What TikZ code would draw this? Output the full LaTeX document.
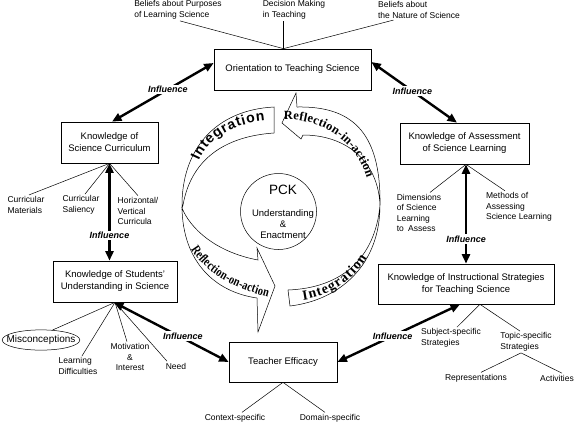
\documentclass[tikz,border=0pt]{standalone}
\usepackage{fontspec}
\setmainfont{Liberation Sans}
\newfontfamily\lsans{Liberation Sans}
\newfontfamily\lserif{Liberation Serif}
\newfontfamily\lserifc{Liberation Serif}[FakeStretch=0.8]
\usetikzlibrary{arrows.meta,decorations.text,calc,shapes.geometric}
\newcommand\bandA{\lsans\bfseries\fontsize{14}{14}\selectfont}
\newcommand\bandB{\lserif\bfseries\fontsize{12.5}{13}\selectfont}
\newcommand\bandC{\lserifc\bfseries\fontsize{13}{13}\selectfont}
\newcommand\bandD{\lserif\bfseries\fontsize{14}{14}\selectfont}
\tikzset{
  box/.style={draw, line width=0.7pt, align=center, font=\fontsize{9.5}{12}\selectfont, inner sep=2pt},
  lbl/.style={align=left, font=\fontsize{8.5}{10.5}\selectfont, inner sep=1.5pt},
  lblc/.style={align=center, font=\fontsize{8.5}{10.5}\selectfont, inner sep=1.5pt},
  thinline/.style={line width=0.5pt},
  infl/.style={line width=2.4pt, arrows={Triangle[length=9.5pt,width=8pt]-Triangle[length=9.5pt,width=8pt]}},
  inflabel/.style={fill=white, font=\fontsize{9}{10}\selectfont\bfseries\itshape, inner sep=1.5pt},
  band/.style={draw, fill=white, line width=0.5pt},
  bandtext/.style={decorate, decoration={text along path, text align={fit to path}}}
}
\begin{document}
\begin{tikzpicture}[x=1pt, y=-1pt]
\useasboundingbox (0,0) rectangle (576,424);
\fill[white] (0,0) rectangle (576,424);

% cycle bands
\draw[band] (182,208) .. controls (181,150) and (215,110) .. (274,107) -- (274,133) .. controls (230,136) and (192,155) .. (183,205) -- cycle;
\draw[band] (282,123) -- (296,93) -- (297,107) .. controls (350,106) and (381,130) .. (380,205) .. controls (378,160) and (345,135) .. (303,135) -- (301,139) -- cycle;
\draw[band] (182,208) .. controls (190,228) and (215,252) .. (258,260) -- (257,248) -- (275,286) -- (258,332) -- (257,298) .. controls (215,292) and (183,262) .. (182,208) -- cycle;
\draw[band] (380,205) .. controls (380,265) and (340,300) .. (290,306) -- (288,290) .. controls (340,288) and (375,260) .. (380,205) -- cycle;

\path[bandtext, decoration={text={|\bandA|Integration}}] (199,161) .. controls (208,140) and (230,124) .. (265,121);
\path[bandtext, decoration={text={|\bandB|Reflection-in-action}}] (284,120) .. controls (320,118) and (355,140) .. (367,178);
\path[bandtext, decoration={text={|\bandC|Reflection-on-action}}] (191,249) .. controls (205,272) and (232,288) .. (268,297);
\path[bandtext, decoration={text={|\bandD|Integration}}] (303,300) .. controls (325,297) and (350,285) .. (367,258);

% PCK
\node[draw, circle, minimum size=76pt, inner sep=0pt, line width=0.5pt] (pck) at (278.5,211.5) {};
\node[align=center, font=\fontsize{9.5}{11}\selectfont, inner sep=0pt] (pcktext) at ([xshift=4.5pt]pck.center) {{\fontsize{13.5}{16}\selectfont PCK}\\[11pt]Understanding\\\&\\Enactment};

% boxes
\node[box, minimum width=157pt, minimum height=41pt] (orient) at (292.5,69.5) {Orientation to Teaching Science};
\node[box, minimum width=97pt, minimum height=41pt] (ksc) at (109.5,142.5) {Knowledge of\\Science Curriculum};
\node[box, minimum width=129pt, minimum height=41pt] (kas) at (464.5,143.5) {Knowledge of Assessment\\of Science Learning};
\node[box, minimum width=124pt, minimum height=41pt] (ksu) at (115,281.5) {Knowledge of Students'\\Understanding in Science};
\node[box, minimum width=176pt, minimum height=40pt] (kis) at (466,284) {Knowledge of Instructional Strategies\\for Teaching Science};
\node[box, minimum width=108pt, minimum height=40pt] (te) at (283,362) {Teacher Efficacy};

% top labels
\node[lbl] (bp) at (178,10) {Beliefs about Purposes\\of Learning Science};
\node[lbl] (dm) at (294,10) {Decision Making\\in Teaching};
\node[lbl] (bn) at (419,10) {Beliefs about\\the Nature of Science};
\coordinate (ortop) at ([xshift=-9pt]orient.north);
\draw[thinline] (ortop) -- ([xshift=2pt]bp.south);
\draw[thinline] (ortop) -- (ortop |- dm.south);
\draw[thinline] (ortop) -- ($(bn.south west)!0.2!(bn.south east)$);

% curriculum
\node[lbl] (cm) at (26,205) {Curricular\\Materials};
\node[lbl] (csal) at (81,205) {Curricular\\Saliency};
\node[lbl] (hv) at (138,211) {Horizontal/\\Vertical\\Curricula};
\draw[thinline] (ksc.south) -- ([xshift=3pt]cm.north);
\draw[thinline] (ksc.south) -- ([xshift=4pt]csal.north);
\draw[thinline] (ksc.south) -- (hv.north);

% students
\node[draw, ellipse, line width=0.5pt, inner xsep=-7pt, inner ysep=2.5pt, font=\fontsize{10}{12}\selectfont] (mis) at (41,340) {Misconceptions};
\node[lbl] (ld) at (78,366) {Learning\\Difficulties};
\node[lblc] (mi) at (130,357) {Motivation\\\&\\Interest};
\node[lbl] (nd) at (176,366) {Need};
\draw[thinline] (ksu.south) -- (mis.41);
\draw[thinline] (ksu.south) -- ([xshift=4pt]ld.north);
\draw[thinline] (ksu.south) -- ([xshift=-3pt]mi.north);
\draw[thinline] (ksu.south) -- ([xshift=-9pt]nd.north);

% teacher efficacy
\node[lbl] (cx) at (235,418) {Context-specific};
\node[lbl] (dsp) at (330,418) {Domain-specific};
\draw[thinline] (te.south) -- ([xshift=7pt]cx.north);
\draw[thinline] (te.south) -- ([xshift=-5pt]dsp.north);

% assessment
\node[lbl] (dim) at (419,213) {Dimensions\\of Science\\Learning\\to\enspace Assess};
\node[lbl] (mth) at (519,207) {Methods of\\Assessing\\Science Learning};
\coordinate (kasb) at ([xshift=1.5pt]kas.south);
\draw[thinline] (kasb) -- ([xshift=11pt]dim.north);
\draw[thinline] (kasb) -- ([xshift=-14pt]mth.north);

% instructional strategies
\node[lbl] (ss) at (451,338) {Subject-specific\\Strategies};
\node[lbl] (ts) at (526,342) {Topic-specific\\Strategies};
\node[lbl] (rep) at (476,378) {Representations};
\node[lbl] (act) at (557,378) {Activities};
\coordinate (kisb) at ([xshift=14pt]kis.south);
\draw[thinline] (kisb) -- ([xshift=6pt]ss.north);
\draw[thinline] (kisb) -- ([xshift=-6pt]ts.north);
\coordinate (tsb) at ([xshift=-5pt]ts.south);
\draw[thinline] (tsb) -- ([xshift=5pt]rep.north);
\draw[thinline] (tsb) -- ([xshift=5pt]act.north);

% influence arrows
\draw[infl] ([yshift=6.5pt]orient.west) -- node[inflabel, pos=0.45] {Influence} ([xshift=2.5pt]ksc.north);
\draw[infl] ([yshift=7.5pt]orient.east) -- node[inflabel, pos=0.48] {Influence} ([xshift=-7.5pt]kas.north);
\draw[infl] (ksc.south) -- node[inflabel, pos=0.74] {Influence} (ksc.south |- ksu.north);
\draw[infl] (kasb) -- node[inflabel, pos=0.75] {Influence} (kasb |- kis.north);
\draw[infl] ([xshift=-1pt]ksu.south) -- node[inflabel, pos=0.6, yshift=2pt] {Influence} (te.west);
\draw[infl] ([xshift=-6pt]kis.south) -- node[inflabel, pos=0.55] {Influence} (te.east);
\end{tikzpicture}
\end{document}
